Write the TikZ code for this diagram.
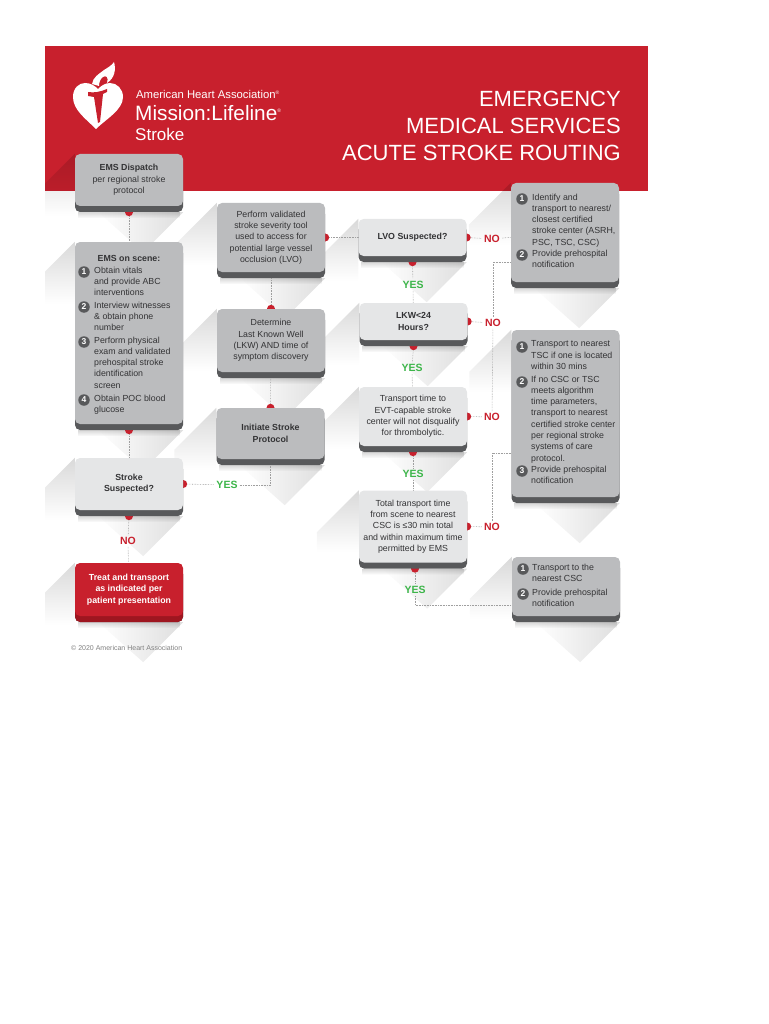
\documentclass[tikz,border=0pt]{standalone}
\usepackage{fontspec}
\setmainfont{Liberation Sans}
\usetikzlibrary{calc, backgrounds, fadings}

\definecolor{ahared}{HTML}{C8202D}
\definecolor{boxgray}{HTML}{BBBCBE}
\definecolor{boxlight}{HTML}{E5E6E7}
\definecolor{basegray}{HTML}{58595B}
\definecolor{basered}{HTML}{9E1620}
\definecolor{textgray}{HTML}{333335}
\definecolor{yesgreen}{HTML}{3DB54A}

\tikzset{
    gbox/.style={rectangle, rounded corners=5pt, inner sep=0pt, minimum width=108pt, align=center,
        text=textgray, font=\fontsize{8.8}{11.3}\selectfont, fill=boxgray,
        preaction={fill=basegray, transform canvas={yshift=-6pt}}},
    lbox/.style={gbox, fill=boxlight},
    rbox/.style={gbox, fill=ahared, text=white, font=\fontsize{8.8}{11.3}\selectfont\bfseries,
        preaction={fill=basered, transform canvas={yshift=-6pt}}},
    boxtext/.style={inner sep=0pt, align=left, anchor=north west, text=textgray, font=\fontsize{8.8}{11.3}\selectfont},
    num/.style={circle, fill=basegray, text=white, inner sep=0pt, minimum size=11.5pt, font=\fontsize{8.5}{9}\selectfont\bfseries},
    reddot/.style={circle, fill=ahared, inner sep=0pt, minimum size=8pt},
    link/.style={densely dotted, gray!75, line width=0.6pt},
    yeslabel/.style={text=yesgreen, inner sep=2pt, font=\fontsize{10.5}{11}\selectfont\bfseries},
    nolabel/.style={text=ahared, inner sep=2pt, font=\fontsize{10.5}{11}\selectfont\bfseries},
    shadedown/.style={fill=black, opacity=0.15, path fading=south},
    shadeleft/.style={fill=black, opacity=0.13, path fading=west}
}
\newcommand{\boxshade}[1]{
    \fill[shadedown] (#1.north west) -- ++(-42,42) -- ++(0,20) -- ++(42,0) -- cycle;
    \fill[shadeleft] ($(#1.south east)+(0,6)$) -- ++(-40,40) -- ++(-45,-40) -- cycle;
    \fill[shadedown] ($(#1.south west)+(3,6)$) rectangle ($(#1.south east)+(-3,12)$);
}

\begin{document}
\begin{tikzpicture}[x=1pt, y=-1pt]
    \useasboundingbox (0,0) rectangle (768,1024);

    % Flow boxes, left column
    \node[gbox, minimum height=52pt] (dispatch) at (129,180) {\textbf{EMS Dispatch}\\per regional stroke\\protocol};
    \node[gbox, minimum height=182pt] (onscene) at (129,333) {};
    \node[lbox, minimum height=52pt] (stroke) at (129,484) {\textbf{Stroke}\\\textbf{Suspected?}};
    \node[rbox, minimum height=53pt] (treat) at (129,589.5) {Treat and transport\\as indicated per\\patient presentation};

    % Middle column
    \node[gbox, minimum height=69pt] (perform) at (271,237.5) {Perform validated\\stroke severity tool\\used to access for\\potential large vessel\\occlusion (LVO)};
    \node[gbox, minimum height=63pt] (determine) at (271,340.5) {Determine\\Last Known Well\\(LKW) AND time of\\symptom discovery};
    \node[gbox, minimum height=51pt] (initiate) at (270.5,433.5) {\textbf{Initiate Stroke}\\\textbf{Protocol}};

    % Decisions
    \node[lbox, minimum height=37pt] (lvo) at (412.5,237.5) {\textbf{LVO Suspected?}};
    \node[lbox, minimum height=37pt] (lkw) at (413.5,321.5) {\textbf{LKW<24}\\\textbf{Hours?}};
    \node[lbox, minimum height=59pt] (transport) at (413,416.5) {Transport time to\\EVT-capable stroke\\center will not disqualify\\for thrombolytic.};
    \node[lbox, minimum height=72pt] (total) at (413,526.5) {Total transport time\\from scene to nearest\\CSC is ≤30 min total\\and within maximum time\\permitted by EMS};

    % Outcome boxes
    \node[gbox, minimum height=99pt] (outa) at (565,232.5) {};
    \node[gbox, minimum height=167pt] (outb) at (565.5,413.5) {};
    \node[gbox, minimum height=59pt] (outc) at (566,586.5) {};

    % EMS on scene list
    \node[boxtext, anchor=center, font=\fontsize{8.8}{11}\selectfont\bfseries] (scenetitle) at (129,258) {EMS on scene:};
    \node[num] (s1) at (84,272) {1};
    \node[boxtext] (s1t) at (94,266.5) {Obtain vitals\\and provide ABC\\interventions};
    \node[num] (s2) at (84,307) {2};
    \node[boxtext] (s2t) at (94,301.5) {Interview witnesses\\\& obtain phone\\number};
    \node[num] (s3) at (84,342) {3};
    \node[boxtext] (s3t) at (94,336.5) {Perform physical\\exam and validated\\prehospital stroke\\identification\\screen};
    \node[num] (s4) at (84,400) {4};
    \node[boxtext] (s4t) at (94,394.5) {Obtain POC blood\\glucose};

    % Outcome lists
    \node[num] (a1) at (522,199) {1};
    \node[boxtext] (a1t) at (532,193.5) {Identify and\\transport to nearest/\\closest certified\\stroke center (ASRH,\\PSC, TSC, CSC)};
    \node[num] (a2) at (522,255) {2};
    \node[boxtext] (a2t) at (532,249.5) {Provide prehospital\\notification};
    \node[num] (b1) at (522,347) {1};
    \node[boxtext] (b1t) at (531,340.5) {Transport to nearest\\TSC if one is located\\within 30 mins};
    \node[num] (b2) at (522,382) {2};
    \node[boxtext] (b2t) at (531,375.5) {If no CSC or TSC\\meets algorithm\\time parameters,\\transport to nearest\\certified stroke center\\per regional stroke\\systems of care\\protocol.};
    \node[num] (b3) at (522,471) {3};
    \node[boxtext] (b3t) at (531,465.5) {Provide prehospital\\notification};
    \node[num] (c1) at (523,569) {1};
    \node[boxtext] (c1t) at (532,563.5) {Transport to the\\nearest CSC};
    \node[num] (c2) at (523,594) {2};
    \node[boxtext] (c2t) at (532,588.5) {Provide prehospital\\notification};

    % Yes and no labels
    \node[yeslabel] (yesstroke) at (227,485) {YES};
    \node[nolabel] (nostroke) at (128,541) {NO};
    \node[yeslabel] (yeslvo) at (413,285) {YES};
    \node[nolabel] (nolvo) at (492,239) {NO};
    \node[yeslabel] (yeslkw) at (412,368) {YES};
    \node[nolabel] (nolkw) at (493,323) {NO};
    \node[yeslabel] (yestransport) at (413,474) {YES};
    \node[nolabel] (notransport) at (492,417) {NO};
    \node[yeslabel] (yestotal) at (415,590) {YES};
    \node[nolabel] (nototal) at (492,527) {NO};
    \coordinate (intoa) at (511,262);
    \coordinate (intob) at (512,453);
    \coordinate (intoc) at (512,605);

    % Header logo and title
    \node[anchor=east, text=white, inner sep=0pt, font=\fontsize{22}{24}\selectfont] (titlea) at (621,99) {EMERGENCY};
    \node[anchor=east, text=white, inner sep=0pt, font=\fontsize{22}{24}\selectfont] (titleb) at (621,126) {MEDICAL SERVICES};
    \node[anchor=east, text=white, inner sep=0pt, font=\fontsize{22}{24}\selectfont] (titlec) at (621,153) {ACUTE STROKE ROUTING};
    \node[anchor=west, text=white, inner sep=0pt, font=\fontsize{11.3}{12}\selectfont] (logoa) at (136,94) {American Heart Association\textsuperscript{\tiny ®}};
    \node[anchor=west, text=white, inner sep=0pt, font=\fontsize{20.8}{22}\selectfont] (logob) at (135,113) {Mission:Lifeline\textsuperscript{\tiny ®}};
    \node[anchor=west, text=white, inner sep=0pt, font=\fontsize{17}{19}\selectfont] (logoc) at (135,134) {Stroke};
    \node[anchor=west, text=gray, inner sep=0pt, font=\fontsize{7}{8}\selectfont] (copy) at (71,648) {© 2020 American Heart Association};

    % Everything behind the boxes
    \begin{scope}[on background layer]
        \fill[ahared] (45,46) rectangle (648,191);
        \fill[white] (96,129) .. controls (86,119) and (73,110) .. (73,97) .. controls (73,88) and (79,83) .. (85,83)
            .. controls (91,83) and (95,86) .. (98,89) .. controls (101,86) and (105,83) .. (110,83)
            .. controls (117,83) and (123,89) .. (123,97) .. controls (123,110) and (106,119) .. (96,129) -- cycle;
        \fill[white] (92,84) .. controls (93,77) and (99,74) .. (104,70) .. controls (109,67) and (112,65) .. (114,62)
            .. controls (116,69) and (115,78) .. (107,83) .. controls (109,77) and (106,75) .. (103,77)
            .. controls (100,79) and (99,83) .. (99,86) -- cycle;
        \fill[ahared] (88,92) .. controls (94,93) and (100,92) .. (107,89) -- (107,92) -- (103,94) -- (100,122) -- (98,123) -- (94,97) -- (88,96) -- cycle;

        \begin{scope}
            \clip (45,46) rectangle (648,680);
            \foreach \boxname in {dispatch, onscene, stroke, treat, perform, determine, initiate, lvo, lkw, transport, total, outa, outb, outc}
                {\boxshade{\boxname}}
        \end{scope}

        % Red connector dots
        \node[reddot] (dotdispatch) at ([yshift=-6pt]dispatch.south) {};
        \node[reddot] (dotscene) at ([yshift=-6pt]onscene.south) {};
        \node[reddot] (dotstroke) at ([yshift=-6pt]stroke.south) {};
        \node[reddot] (dotstrokeyes) at (stroke.east) {};
        \node[reddot] (dotinitiate) at (initiate.north) {};
        \node[reddot] (dotdetermine) at (determine.north) {};
        \node[reddot] (dotperform) at (perform.east) {};
        \node[reddot] (dotlvo) at (lvo.east) {};
        \node[reddot] (dotlvoyes) at ([yshift=-6pt]lvo.south) {};
        \node[reddot] (dotlkw) at (lkw.east) {};
        \node[reddot] (dotlkwyes) at ([yshift=-6pt]lkw.south) {};
        \node[reddot] (dottransport) at (transport.east) {};
        \node[reddot] (dottransportyes) at ([yshift=-6pt]transport.south) {};
        \node[reddot] (dottotal) at (total.east) {};
        \node[reddot] (dottotalyes) at ([xshift=2pt,yshift=-6pt]total.south) {};

        % Connectors
        \draw[link] (dotdispatch) -- (onscene);
        \draw[link] (dotscene) -- (stroke);
        \draw[link] (dotstrokeyes) -- (yesstroke);
        \draw[link] (yesstroke) -| (initiate);
        \draw[link] (dotstroke) -- (nostroke);
        \draw[link] (nostroke) -- (treat);
        \draw[link] (dotinitiate) -- (determine);
        \draw[link] (dotdetermine) -- (perform);
        \draw[link] (dotperform) -- (lvo);
        \draw[link] (dotlvo) -- (nolvo);
        \draw[link] (nolvo) -- (outa);
        \draw[link] (dotlvoyes) -- (yeslvo);
        \draw[link] (yeslvo) -- (lkw);
        \draw[link] (dotlkw) -- (nolkw);
        \draw[link] (nolkw) |- (intoa);
        \draw[link] (dotlkwyes) -- (yeslkw);
        \draw[link] (yeslkw) -- (transport);
        \draw[link] (dottransport) -- (notransport);
        \draw[link] (notransport) -- (nolkw);
        \draw[link] (dottransportyes) -- (yestransport);
        \draw[link] (yestransport) -- (total);
        \draw[link] (dottotal) -- (nototal);
        \draw[link] (nototal) |- (intob);
        \draw[link] (dottotalyes) -- (yestotal);
        \draw[link] (yestotal) |- (intoc);
    \end{scope}
\end{tikzpicture}
\end{document}
